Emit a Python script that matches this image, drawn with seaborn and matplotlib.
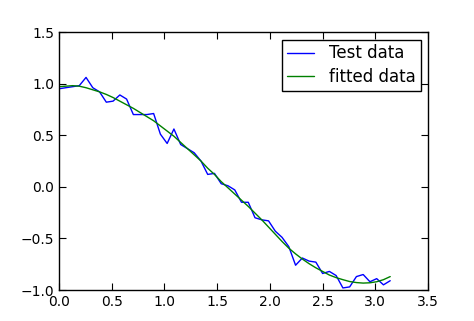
import matplotlib
matplotlib.use("Agg")
import matplotlib.pyplot as plt
import seaborn as sns
import numpy as np

# sample positions (0 .. pi, 50 points)
x_data = np.linspace(0, np.pi, 50)

test_data = [0.95, 0.96, 0.97, 0.98, 1.06, 0.96, 0.92, 0.82, 0.83, 0.89,
             0.85, 0.70, 0.70, 0.70, 0.71, 0.51, 0.42, 0.56, 0.41, 0.37,
             0.33, 0.25, 0.12, 0.13, 0.03, 0.01, -0.03, -0.15, -0.15, -0.30,
             -0.32, -0.33, -0.43, -0.49, -0.58, -0.76, -0.69, -0.72, -0.73, -0.84,
             -0.82, -0.86, -0.98, -0.97, -0.87, -0.85, -0.92, -0.89, -0.95, -0.91]

fitted_data = [0.97, 0.975, 0.98, 0.975, 0.96, 0.94, 0.92, 0.895, 0.865, 0.83,
               0.795, 0.76, 0.72, 0.68, 0.64, 0.59, 0.54, 0.49, 0.43, 0.37,
               0.31, 0.25, 0.18, 0.12, 0.05, -0.01, -0.07, -0.13, -0.19, -0.255,
               -0.32, -0.39, -0.46, -0.53, -0.595, -0.65, -0.70, -0.745, -0.785, -0.82,
               -0.855, -0.88, -0.90, -0.918, -0.928, -0.933, -0.93, -0.92, -0.90, -0.87]

sns.set_style("ticks", {"text.color": "black", "axes.labelcolor": "black"})
plt.rcParams['font.family'] = ['DejaVu Sans']

fig = plt.figure(figsize=(4.74, 3.21), dpi=100)
ax = fig.add_axes([59/474, 1 - 290/321, (428-59)/474, (290-32)/321])

sns.lineplot(x=x_data, y=test_data, color='blue', lw=1, label='Test data', ax=ax)
sns.lineplot(x=x_data, y=fitted_data, color='green', lw=1, label='fitted data', ax=ax)

ax.set_xlim(0, 3.5)
ax.set_ylim(-1.0, 1.5)
ax.set_xticks(np.arange(0, 3.51, 0.5))
ax.set_yticks(np.arange(-1.0, 1.51, 0.5))
ax.tick_params(direction='in', top=True, right=True, length=5, width=0.8,
               labelsize=10, colors='black')
for s in ax.spines.values():
    s.set_visible(True)
    s.set_color('black')
    s.set_linewidth(1)

leg = ax.legend(loc='upper right', fontsize=12, fancybox=False, frameon=True,
                borderaxespad=0.45, handlelength=1.6, handletextpad=0.9,
                borderpad=0.3, labelspacing=0.3)
leg.get_frame().set_edgecolor('black')
leg.get_frame().set_linewidth(1)
leg.get_frame().set_alpha(1)
for t in leg.get_texts():
    t.set_color('black')

fig.savefig("out.png", dpi=100)
